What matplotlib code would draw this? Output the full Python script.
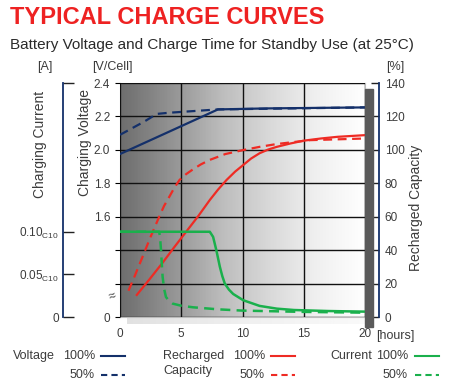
import numpy as np
import matplotlib.pyplot as plt
from matplotlib.lines import Line2D
from matplotlib.patches import Rectangle

plt.rcParams['font.family'] = ['Liberation Sans', 'DejaVu Sans']

NAVY = '#14306a'
RED = '#ee2b24'
GREEN = '#1ab04c'
TXT = '#3c3c3c'

# charge time [hours] and readings
volt_full_h = [0, 8, 12, 20]
volt_full_v = [1.975, 2.242, 2.248, 2.254]
volt_half_h = [0, 1, 2, 3, 4, 6, 8, 20]
volt_half_v = [2.09, 2.13, 2.17, 2.215, 2.222, 2.232, 2.242, 2.254]

cap_full_h = [1.37, 2.4, 3.48, 4.4, 5.4, 6.4, 7.33, 8.0, 8.7, 9.4, 10.07, 10.7, 11.4, 12.1, 12.8, 13.9, 15, 16.4, 17.75, 20]
cap_full_p = [13.2, 22.5, 32.5, 41.5, 51, 60.5, 70, 76.2, 82, 87, 91, 94.8, 98, 100.2, 101.8, 103.8, 105.5, 106.8, 107.8, 108.8]
cap_half_h = [0.69, 1.2, 1.84, 2.5, 3.2, 3.6, 4.03, 4.45, 4.86, 5.4, 5.95, 6.6, 7.33, 8.6, 10.07, 11.4, 12.8, 15.5, 20]
cap_half_p = [15.7, 24.5, 36, 48, 60, 66.5, 72, 77.5, 82, 85.5, 88.3, 91.3, 94, 97.5, 99.9, 101.8, 103.5, 105.8, 106.8]

cur_full_h = [0, 7.33, 7.6, 7.87, 8.15, 8.35, 8.56, 8.9, 9.24, 10.07, 11.4, 12.8, 14.2, 17, 20]
cur_full_a = [0.100, 0.100, 0.094, 0.078, 0.059, 0.048, 0.039, 0.032, 0.027, 0.0196, 0.013, 0.0098, 0.0082, 0.0070, 0.0063]
cur_half_h = [0, 3.2, 3.28, 3.35, 3.42, 3.48, 3.6, 3.75, 4.0, 4.3, 5.0, 5.95, 8.0, 10, 15, 20]
cur_half_a = [0.100, 0.100, 0.092, 0.078, 0.060, 0.047, 0.033, 0.0235, 0.019, 0.0157, 0.0132, 0.0114, 0.0090, 0.0075, 0.0060, 0.0051]

hour_ticks = [0, 5, 10, 15, 20]
cap_ticks = [0, 20, 40, 60, 80, 100, 120, 140]
volt_ticks = [1.0, 1.6, 1.8, 2.0, 2.2, 2.4]
volt_labels = ['0', '1.6', '1.8', '2.0', '2.2', '2.4']
cur_ticks = [0, 0.05, 0.10]
cur_labels = ['0', '0.05$_{\\mathregular{C10}}$', '0.10$_{\\mathregular{C10}}$']

fig = plt.figure(figsize=(4.5, 3.89), dpi=100)
W, H = 450.0, 389.0
L, R, T, B = 120, 365, 83, 317
pos = [L / W, 1 - B / H, (R - L) / W, (B - T) / H]

# drop shadow
fig.patches.append(Rectangle((R / W, 1 - 327 / H), 8 / W, 238 / H,
                             transform=fig.transFigure, color='#5a5a5a', zorder=0))
grad_b = np.linspace(0, 1, 256).reshape(1, -1)
axs = fig.add_axes([127 / W, 1 - 324 / H, (R - 127) / W, 7 / H])
axs.imshow(grad_b, cmap='Greys_r', vmin=-5.0, vmax=1.3, aspect='auto')
axs.axis('off')

ax = fig.add_axes(pos)
grad = np.linspace(0, 1, 256).reshape(1, -1)
ax.imshow(grad, cmap='Greys_r', vmin=-0.55, vmax=1.0, aspect='auto',
          extent=[0, 20, 0, 140], zorder=0)
ax.set_xlim(0, 20)
ax.set_ylim(0, 140)
ax.set_xticks(hour_ticks)
ax.set_yticks(cap_ticks)
ax.grid(True, color='#111111', lw=1.0, zorder=1)
ax.set_axisbelow(False)
for s in ax.spines.values():
    s.set_color('#bbbbbb')
    s.set_linewidth(0.8)
ax.tick_params(axis='x', length=0, pad=8, labelsize=8.5, labelcolor=TXT)
ax.tick_params(axis='y', left=False, labelleft=False)
ax.text(20.9, -8.0, '[hours]', fontsize=9, color=TXT, ha='left', va='top')

# voltage axis (left, broken at bottom)
axv = ax.twinx()
axv.set_position(pos)
axv.set_ylim(1.0, 2.4)
axv.yaxis.tick_left()
axv.set_yticks(volt_ticks)
axv.set_yticklabels(volt_labels)
axv.tick_params(axis='y', length=0, pad=7, labelsize=8.5, labelcolor=TXT)
for s in axv.spines.values():
    s.set_visible(False)
axv.plot(volt_full_h, volt_full_v, color=NAVY, lw=1.6, zorder=3)
axv.plot(volt_half_h, volt_half_v, color=NAVY, lw=1.6, ls=(0, (4, 2.5)), zorder=3)
axv.text(-0.2, 1.12, '≈', fontsize=9, color=TXT, ha='right', va='center', rotation=20)
fig.text(92 / W, 1 - 67 / H, '[V/Cell]', fontsize=9, color=TXT, ha='left', va='center')
fig.text(85 / W, 1 - 143 / H, 'Charging Voltage', fontsize=10, color=TXT,
         rotation=90, ha='center', va='center')

# recharged capacity axis (right)
axp = ax.twinx()
axp.set_position(pos)
axp.set_ylim(0, 140)
axp.set_yticks(cap_ticks)
for s in ['top', 'bottom', 'left']:
    axp.spines[s].set_visible(False)
axp.spines['right'].set_position(('axes', 1 + 14 / (R - L)))
axp.spines['right'].set_color(NAVY)
axp.spines['right'].set_linewidth(1.3)
axp.tick_params(axis='y', direction='in', length=6, width=1.0, color='#222222',
                pad=4, labelsize=8.5, labelcolor=TXT)
axp.plot(cap_full_h, cap_full_p, color=RED, lw=1.6, zorder=3)
axp.plot(cap_half_h, cap_half_p, color=RED, lw=1.6, ls=(0, (4, 2.5)), zorder=3)
fig.text(395 / W, 1 - 67 / H, '[%]', fontsize=9, color=TXT, ha='center', va='center')
fig.text(416 / W, 1 - 208 / H, 'Recharged Capacity', fontsize=10, color=TXT,
         rotation=90, ha='center', va='center')

# charging current axis (far left)
axc = ax.twinx()
axc.set_position(pos)
axc.set_ylim(0, 0.1 * 140 / 51)
axc.yaxis.tick_left()
axc.yaxis.set_label_position('left')
axc.set_yticks(cur_ticks + [0.1 * 140 / 51])
axc.set_yticklabels(cur_labels + [''])
for s in ['top', 'bottom', 'right']:
    axc.spines[s].set_visible(False)
axc.spines['left'].set_visible(True)
axc.spines['left'].set_position(('axes', (63 - L) / (R - L)))
axc.spines['left'].set_color(NAVY)
axc.spines['left'].set_linewidth(1.3)
axc.tick_params(axis='y', direction='in', length=8, width=1.0, color='#222222',
                pad=3, labelsize=8.5, labelcolor=TXT)
axc.plot(cur_full_h, cur_full_a, color=GREEN, lw=1.8, zorder=4)
axc.plot(cur_half_h, cur_half_a, color=GREEN, lw=1.8, ls=(0, (4, 2.5)), zorder=3)
fig.text(45 / W, 1 - 67 / H, '[A]', fontsize=9, color=TXT, ha='center', va='center')
fig.text(40 / W, 1 - 144 / H, 'Charging Current', fontsize=10, color=TXT,
         rotation=90, ha='center', va='center')

# titles
fig.text(10 / W, 1 - 18 / H, 'TYPICAL CHARGE CURVES', fontsize=17, fontweight='bold',
         color='#ee2222', ha='left', va='center')
fig.text(10 / W, 1 - 45 / H, 'Battery Voltage and Charge Time for Standby Use (at 25°C)',
         fontsize=11, color='#2a2a2a', ha='left', va='center')

# legend
def leg_line(x0, y, color, ls):
    fig.add_artist(Line2D([x0 / W, (x0 + 24) / W], [1 - y / H, 1 - y / H],
                          color=color, lw=1.5, ls=ls, transform=fig.transFigure))

y1, y2 = 356, 375
fs = 9
fig.text(13 / W, 1 - y1 / H, 'Voltage', fontsize=fs, color=TXT, va='center')
fig.text(95 / W, 1 - y1 / H, '100%', fontsize=fs, color=TXT, va='center', ha='right')
fig.text(95 / W, 1 - y2 / H, '50%', fontsize=fs, color=TXT, va='center', ha='right')
leg_line(101, y1, NAVY, '-')
leg_line(101, y2, NAVY, (0, (3, 2)))
fig.text(163 / W, 1 - y1 / H, 'Recharged', fontsize=fs, color=TXT, va='center')
fig.text(163 / W, 1 - 371 / H, 'Capacity', fontsize=fs, color=TXT, va='center')
fig.text(265 / W, 1 - y1 / H, '100%', fontsize=fs, color=TXT, va='center', ha='right')
fig.text(265 / W, 1 - y2 / H, '50%', fontsize=fs, color=TXT, va='center', ha='right')
leg_line(271, y1, RED, '-')
leg_line(271, y2, RED, (0, (3, 2)))
fig.text(330 / W, 1 - y1 / H, 'Current', fontsize=fs, color=TXT, va='center')
fig.text(408 / W, 1 - y1 / H, '100%', fontsize=fs, color=TXT, va='center', ha='right')
fig.text(408 / W, 1 - y2 / H, '50%', fontsize=fs, color=TXT, va='center', ha='right')
leg_line(415, y1, GREEN, '-')
leg_line(415, y2, GREEN, (0, (3, 2)))

fig.savefig('out.png', dpi=100)
